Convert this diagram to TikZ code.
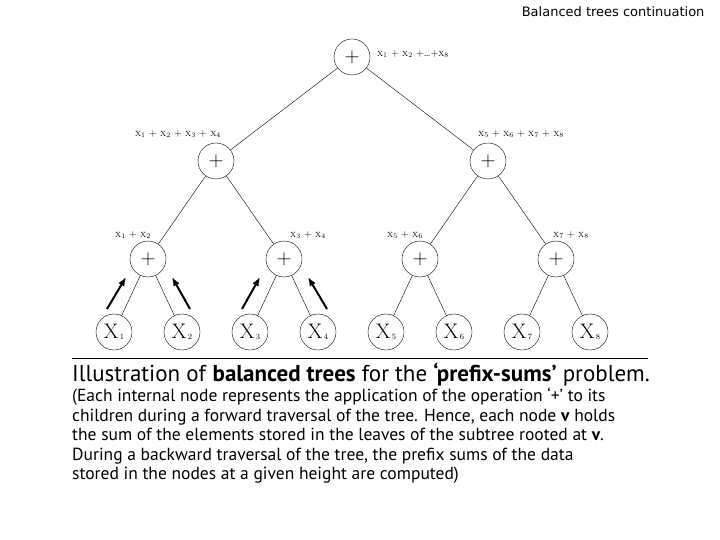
\documentclass[tikz,border=0pt]{standalone}
\usepackage{fontspec}
\newfontfamily\capfont{PT Sans}
\newfontfamily\headfont{DejaVu Sans}
\usetikzlibrary{arrows.meta,calc}

\tikzset{
  opnode/.style={draw,circle,minimum size=36pt,inner sep=0pt,font=\fontsize{22}{22}\selectfont},
  leafnode/.style={draw,circle,minimum size=36pt,inner sep=0pt,font=\fontsize{21}{21}\selectfont},
  sumlabel/.style={font=\fontsize{10}{10}\selectfont},
  uparrow/.style={line width=2pt,-{Latex[length=9pt,width=7pt]}}
}
\newcommand{\xs}[1]{\textsc{x}\textsubscript{#1}}
\newcommand{\leafx}[1]{X\raisebox{-1pt}{\fontsize{8}{8}\selectfont\,#1}}

\begin{document}
\begin{tikzpicture}[x=1pt,y=-1pt]
\useasboundingbox (0,0) rectangle (720,540);

% tree
\node[opnode] (root) at (352,57) {$+$};
\node[opnode] (s14) at (216,161) {$+$};
\node[opnode] (s58) at (488,161) {$+$};
\node[opnode] (s12) at (148,259) {$+$};
\node[opnode] (s34) at (284,259) {$+$};
\node[opnode] (s56) at (420,259) {$+$};
\node[opnode] (s78) at (556,259) {$+$};

\node[leafnode] (x1) at (114,332) {\leafx{1}};
\node[leafnode] (x2) at (182,332) {\leafx{2}};
\node[leafnode] (x3) at (250,332) {\leafx{3}};
\node[leafnode] (x4) at (318,332) {\leafx{4}};
\node[leafnode] (x5) at (386,332) {\leafx{5}};
\node[leafnode] (x6) at (454,332) {\leafx{6}};
\node[leafnode] (x7) at (522,332) {\leafx{7}};
\node[leafnode] (x8) at (590,332) {\leafx{8}};

\draw (root) -- (s14);
\draw (root) -- (s58);
\draw (s14) -- (s12);
\draw (s14) -- (s34);
\draw (s58) -- (s56);
\draw (s58) -- (s78);
\draw (s12) -- (x1);
\draw (s12) -- (x2);
\draw (s34) -- (x3);
\draw (s34) -- (x4);
\draw (s56) -- (x5);
\draw (s56) -- (x6);
\draw (s78) -- (x7);
\draw (s78) -- (x8);

% sums
\node[sumlabel] (lroot) at (413,54) {\xs{1} + \xs{2} +\ldots+\xs{8}};
\node[sumlabel] (l14) at (178,134) {\xs{1} + \xs{2} + \xs{3} + \xs{4}};
\node[sumlabel] (l58) at (521,134) {\xs{5} + \xs{6} + \xs{7} + \xs{8}};
\node[sumlabel] (l12) at (133,235) {\xs{1} + \xs{2}};
\node[sumlabel] (l34) at (308,235) {\xs{3} + \xs{4}};
\node[sumlabel] (l56) at (405,235) {\xs{5} + \xs{6}};
\node[sumlabel] (l78) at (571,235) {\xs{7} + \xs{8}};

% forward arrows
\coordinate (a1s) at (107,309); \coordinate (a1e) at (126,277);
\coordinate (a2s) at (190,309); \coordinate (a2e) at (172,277);
\coordinate (a3s) at (242,309); \coordinate (a3e) at (260,277);
\coordinate (a4s) at (327,309); \coordinate (a4e) at (308,277);
\draw[uparrow] (a1s) -- (a1e);
\draw[uparrow] (a2s) -- (a2e);
\draw[uparrow] (a3s) -- (a3e);
\draw[uparrow] (a4s) -- (a4e);

% text
\node[anchor=east,font=\headfont\fontsize{13}{13}\selectfont] (title) at (708,12) {Balanced trees continuation};
\coordinate (rl) at (72,358); \coordinate (rr) at (648,358);
\draw[line width=0.8pt] (rl) -- (rr);
\node[anchor=west,inner sep=0pt,font=\capfont\fontsize{23}{23}\selectfont] (capt) at (72,375)
  {Illustration of \textbf{balanced trees} for the \textbf{‘prefix-sums’} problem.};
\node[anchor=north west,inner sep=0pt,align=left,font=\capfont\fontsize{17.5}{19.5}\selectfont] (desc) at (72,388)
  {(Each internal node represents the application of the operation ‘+’ to its\\
   children during a forward traversal of the tree. Hence, each node \textbf{v} holds\\
   the sum of the elements stored in the leaves of the subtree rooted at \textbf{v}.\\
   During a backward traversal of the tree, the prefix sums of the data\\
   stored in the nodes at a given height are computed)};
\end{tikzpicture}
\end{document}
